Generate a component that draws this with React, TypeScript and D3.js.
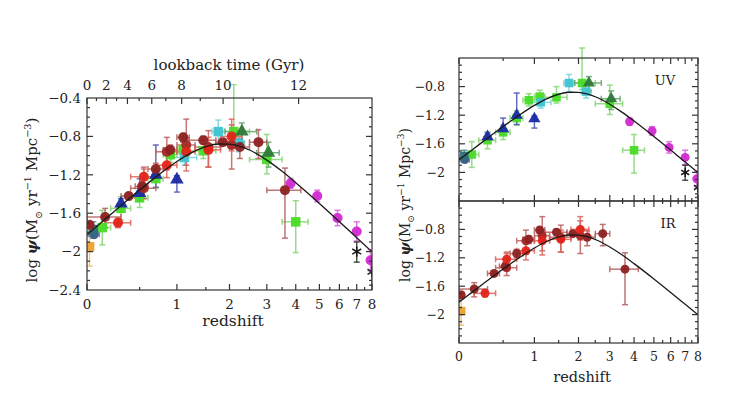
import React from "react";
import * as d3 from "d3";

// each point: [z, zLow, zHigh, log psi, err up, err down]
type Pt = [number, number, number, number, number, number];

// rest-frame UV surveys
const wyder: Pt[] = [[0.055, 0.01, 0.1, -1.82, 0.09, 0.02]];
const robotham: Pt[] = [[0.05, 0.05, 0.05, -1.77, 0.08, 0.09]];
const schiminovich: Pt[] = [
  [0.3, 0.3, 0.3, -1.5, 0.05, 0.05],
  [0.5, 0.5, 0.5, -1.39, 0.15, 0.08],
  [0.7, 0.7, 0.7, -1.2, 0.31, 0.13],
  [1.0, 1.0, 1.0, -1.25, 0.04, 0.13],
];
const cucciati: Pt[] = [
  [0.125, 0.05, 0.2, -1.75, 0.18, 0.18],
  [0.3, 0.2, 0.4, -1.55, 0.12, 0.12],
  [0.5, 0.4, 0.6, -1.44, 0.1, 0.1],
  [0.7, 0.6, 0.8, -1.24, 0.1, 0.1],
  [0.9, 0.8, 1.0, -0.99, 0.09, 0.08],
  [1.1, 1.0, 1.2, -0.94, 0.09, 0.09],
  [1.45, 1.2, 1.7, -0.95, 0.15, 0.08],
  [2.1, 1.7, 2.5, -0.75, 0.49, 0.09],
  [3.0, 2.5, 3.5, -1.04, 0.26, 0.15],
  [4.0, 3.5, 4.5, -1.69, 0.22, 0.32],
];
const dahlen: Pt[] = [
  [1.12, 0.92, 1.33, -1.02, 0.08, 0.08],
  [1.75, 1.62, 1.88, -0.75, 0.12, 0.12],
  [2.22, 2.08, 2.37, -0.87, 0.09, 0.09],
];
const reddy: Pt[] = [
  [2.3, 1.9, 2.7, -0.75, 0.09, 0.11],
  [3.05, 2.7, 3.4, -0.97, 0.11, 0.15],
];
const bouwens: Pt[] = [
  [3.8, 3.8, 3.8, -1.29, 0.05, 0.05],
  [4.9, 4.9, 4.9, -1.42, 0.06, 0.06],
  [5.9, 5.9, 5.9, -1.65, 0.08, 0.08],
  [7.0, 7.0, 7.0, -1.79, 0.1, 0.1],
  [7.9, 7.9, 7.9, -2.09, 0.11, 0.11],
];
const schenker: Pt[] = [
  [7.0, 7.0, 7.0, -2.0, 0.1, 0.11],
  [8.0, 8.0, 8.0, -2.21, 0.14, 0.14],
];

// far-infrared surveys
const sanders: Pt[] = [[0.02, 0.02, 0.02, -1.72, 0.02, 0.03]];
const takeuchi: Pt[] = [[0.02, 0.02, 0.02, -1.95, 0.2, 0.2]];
const magnelli11: Pt[] = [
  [0.55, 0.4, 0.7, -1.34, 0.22, 0.11],
  [0.85, 0.7, 1.0, -0.96, 0.15, 0.19],
  [1.15, 1.0, 1.3, -0.89, 0.27, 0.21],
  [1.55, 1.3, 1.8, -0.91, 0.17, 0.21],
  [2.05, 1.8, 2.3, -0.89, 0.21, 0.25],
];
const magnelli13: Pt[] = [
  [0.27, 0.15, 0.4, -1.7, 0.05, 0.05],
  [0.55, 0.4, 0.7, -1.22, 0.08, 0.11],
  [0.85, 0.7, 1.0, -1.1, 0.1, 0.13],
  [1.15, 1.0, 1.3, -0.96, 0.13, 0.2],
  [1.55, 1.3, 1.8, -0.94, 0.13, 0.18],
  [2.05, 1.8, 2.3, -0.8, 0.18, 0.15],
];
const gruppioni: Pt[] = [
  [0.15, 0.0, 0.3, -1.64, 0.09, 0.11],
  [0.38, 0.3, 0.45, -1.42, 0.03, 0.04],
  [0.53, 0.45, 0.6, -1.32, 0.05, 0.05],
  [0.7, 0.6, 0.8, -1.14, 0.06, 0.06],
  [0.9, 0.8, 1.0, -0.94, 0.05, 0.06],
  [1.1, 1.0, 1.2, -0.81, 0.04, 0.05],
  [1.45, 1.2, 1.7, -0.84, 0.04, 0.04],
  [1.85, 1.7, 2.0, -0.86, 0.02, 0.03],
  [2.25, 2.0, 2.5, -0.91, 0.09, 0.12],
  [2.75, 2.5, 3.0, -0.86, 0.13, 0.17],
  [3.6, 3.0, 4.2, -1.36, 0.23, 0.5],
];

// best-fit curve
const curveZ = [0, 0.1, 0.25, 0.5, 0.75, 1, 1.25, 1.5, 1.75, 2, 2.25, 2.5, 3, 3.5, 4, 5, 6, 7, 8];
const curvePsi = [-1.825, -1.714, -1.566, -1.359, -1.193, -1.062, -0.967, -0.907, -0.879, -0.88, -0.903, -0.942, -1.047, -1.164, -1.282, -1.498, -1.688, -1.855, -2.003];

// axis ticks
const zMajor = [0, 1, 2, 3, 4, 5, 6, 7, 8];
const zMinor = [0.5, 1.5, 2.5, 3.5, 4.5, 5.5, 6.5, 7.5];
const lookMajor = [0, 2, 4, 6, 8, 10, 12];
const lookMinor = [1, 3, 5, 7, 9, 11];
const yLabelsFull = [-0.4, -0.8, -1.2, -1.6, -2, -2.4];
const yLabelsInner = [-0.8, -1.2, -1.6, -2];

type Shape = "circle" | "square" | "triangle" | "star";
interface Survey { pts: Pt[]; color: string; bar: string; shape: Shape }

const uvSets: Survey[] = [
  { pts: cucciati, color: "#49dc25", bar: "#86d676", shape: "square" },
  { pts: schiminovich, color: "#1b2aa6", bar: "#4a55b4", shape: "triangle" },
  { pts: wyder, color: "#3a5f86", bar: "#5b7fa0", shape: "circle" },
  { pts: robotham, color: "#2f6f7a", bar: "#4f8c94", shape: "square" },
  { pts: dahlen, color: "#3ec5d2", bar: "#76d2dc", shape: "square" },
  { pts: reddy, color: "#2f7a3a", bar: "#62a668", shape: "triangle" },
  { pts: bouwens, color: "#d22ad2", bar: "#d862d8", shape: "circle" },
  { pts: schenker, color: "#111111", bar: "#333333", shape: "star" },
];
const irSets: Survey[] = [
  { pts: takeuchi, color: "#eea030", bar: "#f0c070", shape: "square" },
  { pts: sanders, color: "#96201c", bar: "#b05050", shape: "circle" },
  { pts: magnelli11, color: "#a52a26", bar: "#bc6260", shape: "circle" },
  { pts: gruppioni, color: "#8e2222", bar: "#b45e5e", shape: "circle" },
  { pts: magnelli13, color: "#e2231a", bar: "#e06258", shape: "circle" },
];

const SERIF = "'DejaVu Serif', serif";

// lookback time -> redshift (H0=70, Om=0.3, OL=0.7)
const tH = 977.8 / 70;
const ageA = ((2 / 3) * tH) / Math.sqrt(0.7);
const ageB = Math.sqrt(0.7 / 0.3);
const age0 = ageA * Math.asinh(ageB);
const zOfLookback = (t: number) =>
  Math.max(0, Math.pow(Math.sinh((age0 - t) / ageA) / ageB, -2 / 3) - 1);

const minus = (v: number) => (v < 0 ? "\u2212" + String(-v) : String(v));

interface PanelProps {
  id: string;
  x0: number; x1: number; y0: number; y1: number;
  sets: Survey[];
  yLabels: number[];
  lookbackTop?: boolean;
  showZLabels?: boolean;
  tickFont: number;
  labelGap: number;
  msize: number;
  tag?: { text: string; x: number; y: number };
}

const Panel: React.FC<PanelProps> = ({ id, x0, x1, y0, y1, sets, yLabels, lookbackTop, showZLabels, tickFont, labelGap, msize, tag }) => {
  const lx = d3.scaleLinear().domain([0, Math.log10(9)]).range([x0, x1]);
  const zx = (z: number) => lx(Math.log10(1 + z));
  const y = d3.scaleLinear().domain([-2.4, -0.4]).range([y1, y0]);
  const yMinor = d3.range(-23, -4).map((v) => v / 10);
  const yMajor = [-2, -1.6, -1.2, -0.8];
  const line = d3.line<number>().x((_, i) => zx(curveZ[i])).y((v) => y(v)).curve(d3.curveMonotoneX);
  const cap = 3;

  const marker = (s: Survey, p: Pt, k: number) => {
    const cx = zx(p[0]);
    const cy = y(p[3]);
    if (s.shape === "circle") return <circle key={k} cx={cx} cy={cy} r={msize} fill={s.color} />;
    if (s.shape === "square")
      return <rect key={k} x={cx - msize * 0.95} y={cy - msize * 0.95} width={msize * 1.9} height={msize * 1.9} fill={s.color} />;
    if (s.shape === "triangle")
      return <path key={k} d={d3.symbol(d3.symbolTriangle, msize * msize * 3.2)()!} transform={`translate(${cx},${cy})`} fill={s.color} />;
    return <path key={k} d={d3.symbol(d3.symbolAsterisk, msize * msize * 3)()!} transform={`translate(${cx},${cy})`} fill="none" stroke={s.color} strokeWidth={1.5} />;
  };

  const bars = (s: Survey, p: Pt, k: number) => {
    const cx = zx(p[0]);
    const cy = y(p[3]);
    const yt = y(p[3] + p[4]);
    const yb = y(p[3] - p[5]);
    const els = [
      <line key="v" x1={cx} x2={cx} y1={yt} y2={yb} />,
      <line key="ct" x1={cx - cap} x2={cx + cap} y1={yt} y2={yt} />,
      <line key="cb" x1={cx - cap} x2={cx + cap} y1={yb} y2={yb} />,
    ];
    if (p[2] > p[1]) {
      const xa = zx(p[1]);
      const xb = zx(p[2]);
      els.push(
        <line key="h" x1={xa} x2={xb} y1={cy} y2={cy} />,
        <line key="cl" x1={xa} x2={xa} y1={cy - cap} y2={cy + cap} />,
        <line key="cr" x1={xb} x2={xb} y1={cy - cap} y2={cy + cap} />
      );
    }
    return (
      <g key={k} stroke={s.bar} strokeWidth={1.5} strokeOpacity={0.85}>
        {els}
      </g>
    );
  };

  return (
    <g>
      <defs>
        <clipPath id={id}>
          <rect x={x0} y={y0 - 14} width={x1 - x0} height={y1 - y0 + 14} />
        </clipPath>
      </defs>
      <g clipPath={`url(#${id})`}>
        {sets.map((s, i) => (
          <g key={i}>{s.pts.map((p, k) => bars(s, p, k))}</g>
        ))}
        {sets.map((s, i) => (
          <g key={i} opacity={0.95}>{s.pts.map((p, k) => marker(s, p, k))}</g>
        ))}
        <path d={line(curvePsi)!} fill="none" stroke="#1a1a1a" strokeWidth={1.3} />
      </g>
      <g stroke="#333" strokeWidth={1.2}>
        {yMinor.map((v) => {
          const len = yMajor.some((m) => Math.abs(m - v) < 1e-6) ? 6 : 3;
          return (
            <g key={v}>
              <line x1={x0} x2={x0 + len} y1={y(v)} y2={y(v)} />
              <line x1={x1} x2={x1 - len} y1={y(v)} y2={y(v)} />
            </g>
          );
        })}
        {zMajor.concat(zMinor).map((z) => {
          const len = zMajor.includes(z) ? 6 : 3;
          return (
            <g key={z}>
              <line x1={zx(z)} x2={zx(z)} y1={y1} y2={y1 - len} />
              {!lookbackTop && <line x1={zx(z)} x2={zx(z)} y1={y0} y2={y0 + len} />}
            </g>
          );
        })}
        {lookbackTop &&
          lookMajor.concat(lookMinor).map((t) => {
            const len = lookMajor.includes(t) ? 6 : 3;
            const xx = zx(zOfLookback(t));
            return <line key={t} x1={xx} x2={xx} y1={y0} y2={y0 + len} />;
          })}
        <rect x={x0} y={y0} width={x1 - x0} height={y1 - y0} fill="none" />
      </g>
      <g fontFamily={SERIF} fontSize={tickFont} fill="#222">
        {yLabels.map((v) => (
          <text key={v} x={x0 - labelGap} y={y(v) + tickFont * 0.36} textAnchor="end">
            {minus(v)}
          </text>
        ))}
        {showZLabels &&
          zMajor.map((z) => (
            <text key={z} x={zx(z)} y={y1 + tickFont * 1.4} textAnchor="middle">
              {z}
            </text>
          ))}
        {lookbackTop &&
          lookMajor.map((t) => (
            <text key={t} x={zx(zOfLookback(t))} y={y0 - 8} textAnchor="middle">
              {t}
            </text>
          ))}
      </g>
      {tag && (
        <text x={tag.x} y={tag.y} textAnchor="middle" fontFamily={SERIF} fontSize={13} fill="#222">
          {tag.text}
        </text>
      )}
    </g>
  );
};

const YTitle: React.FC<{ x: number; y: number; size: number }> = ({ x, y, size }) => (
  <text transform={`translate(${x},${y}) rotate(-90)`} textAnchor="middle" fontFamily={SERIF} fontSize={size} fill="#222">
    log <tspan fontStyle="italic" fontWeight="bold">ψ</tspan>(M
    <tspan fontSize={size * 0.65} dy={size * 0.3}>⊙</tspan>
    <tspan dy={-size * 0.3}> yr</tspan>
    <tspan fontSize={size * 0.65} dy={-size * 0.4}>−1</tspan>
    <tspan dy={size * 0.4}> Mpc</tspan>
    <tspan fontSize={size * 0.65} dy={-size * 0.4}>−3</tspan>
    <tspan dy={size * 0.4}>)</tspan>
  </text>
);

export default function App() {
  const all = uvSets.concat(irSets);
  return (
    <svg width={732} height={396} style={{ position: "absolute", left: 0, top: 0, background: "#fff" }}>
      <rect width={732} height={396} fill="#fff" />
      <Panel id="cl" x0={87} x1={372} y0={98} y1={290} sets={all} yLabels={yLabelsFull} lookbackTop showZLabels tickFont={13.5} labelGap={6} msize={5} />
      <text x={229} y={70} textAnchor="middle" fontFamily={SERIF} fontSize={15} fill="#222">lookback time (Gyr)</text>
      <text x={233} y={326} textAnchor="middle" fontFamily={SERIF} fontSize={15.5} fill="#222">redshift</text>
      <YTitle x={37} y={200} size={15} />

      <Panel id="cu" x0={459} x1={698} y0={58} y1={201} sets={uvSets} yLabels={yLabelsInner} tickFont={12.5} labelGap={14} msize={4.5} tag={{ text: "UV", x: 665, y: 85 }} />
      <Panel id="cr" x0={459} x1={698} y0={201} y1={343} sets={irSets} yLabels={yLabelsInner} showZLabels tickFont={12.5} labelGap={14} msize={4.5} tag={{ text: "IR", x: 668, y: 228 }} />
      <text x={582} y={382} textAnchor="middle" fontFamily={SERIF} fontSize={14.5} fill="#222">redshift</text>
      <YTitle x={410} y={205} size={14} />
    </svg>
  );
}
